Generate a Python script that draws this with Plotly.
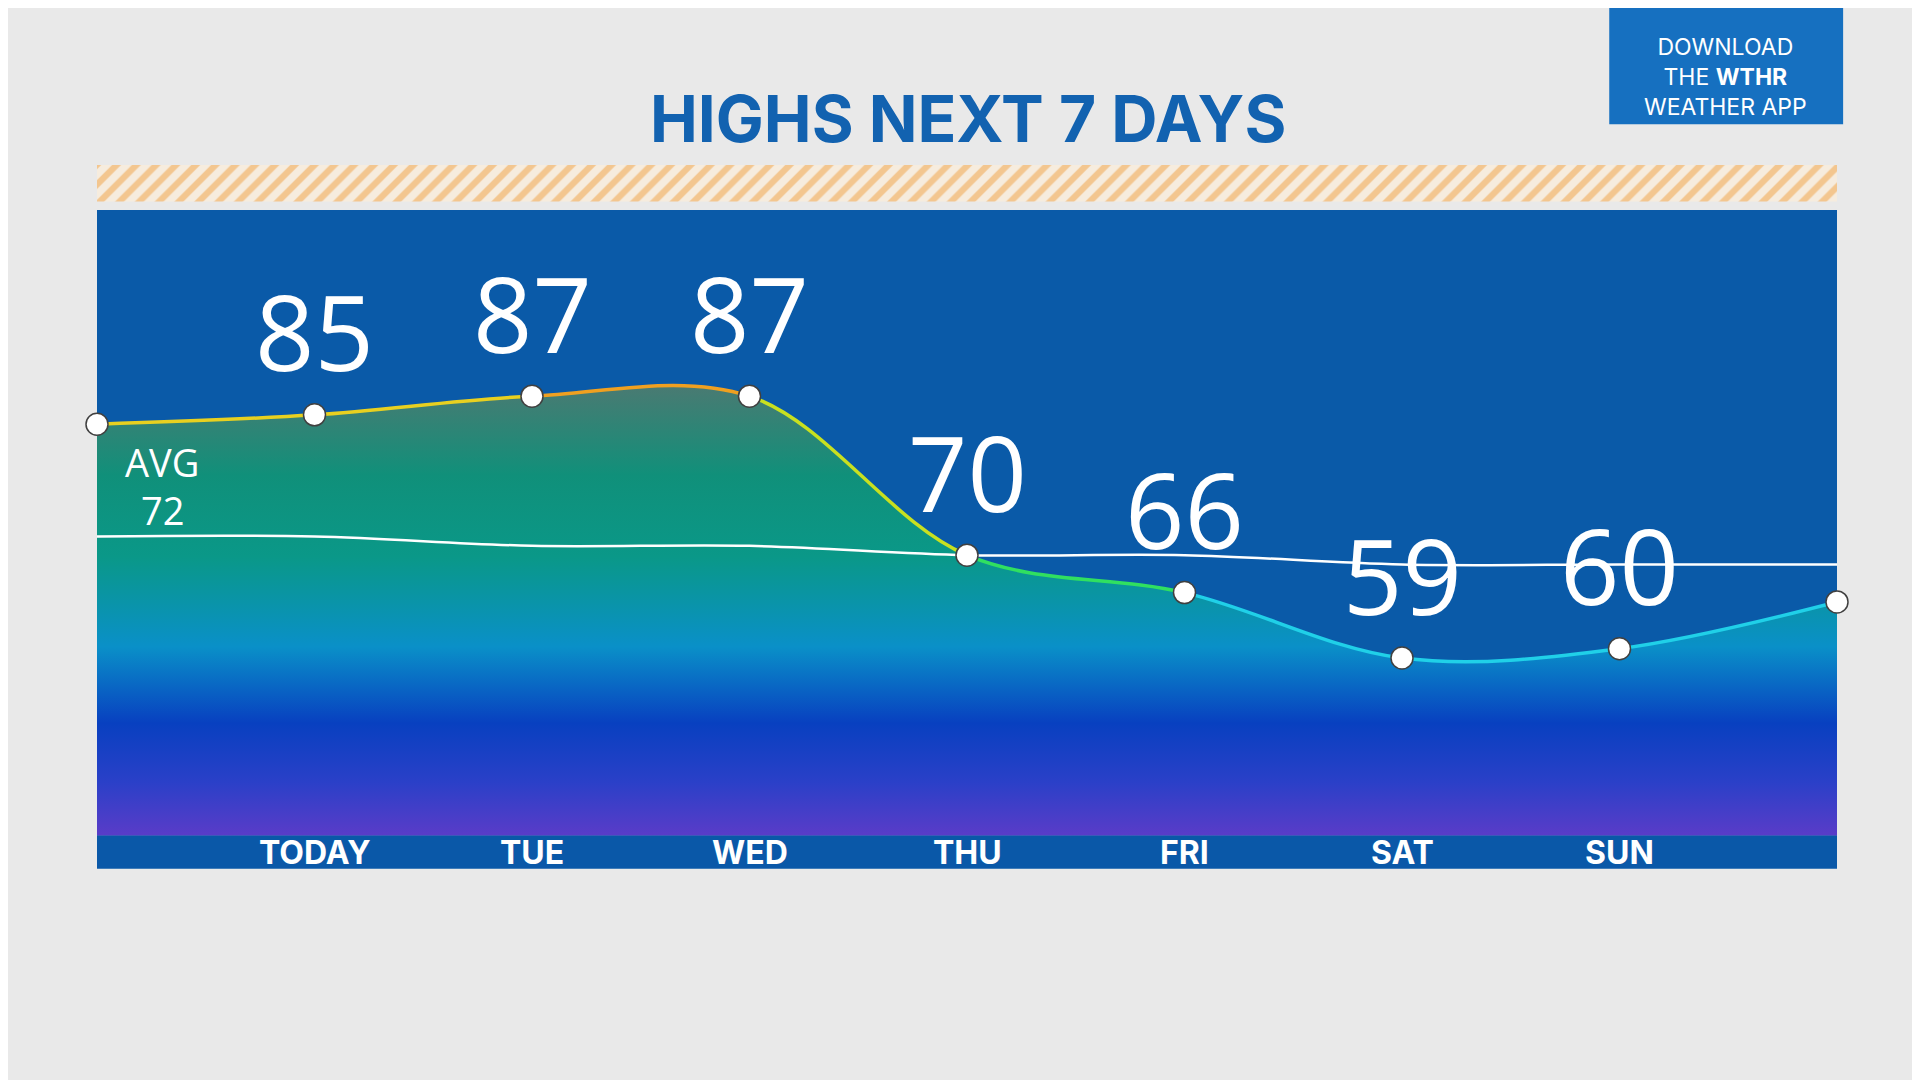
import plotly.graph_objects as go

# data
x_pos = [0, 1, 2, 3, 4, 5, 6, 7, 8]
highs = [84, 85, 87, 87, 70, 66, 59, 60, 65]
avg = [72, 72, 71, 71, 70, 70, 69, 69, 69]
day_labels = ["TODAY", "TUE", "WED", "THU", "FRI", "SAT", "SUN"]
day_x = [1, 2, 3, 4, 5, 6, 7]
shown_highs = [85, 87, 87, 70, 66, 59, 60]

W, H = 1920, 1080
s = W / 1568
RH = 882  # reference height


def py(yref):
    # reference pixel row -> paper y (paper spans the full figure height)
    return 1 - yref / RH


def px_(xref):
    # reference pixel column -> paper x (plot spans 73..1494)
    return (xref - 73) / 1421


fig = go.Figure()

# baseline for the gradient fill
fig.add_trace(go.Scatter(x=x_pos, y=[40] * len(x_pos), mode="lines",
                         line=dict(width=0), hoverinfo="skip", showlegend=False))
fig.add_trace(go.Scatter(
    x=x_pos, y=highs, mode="lines", line=dict(width=0, shape="spline", smoothing=1.0),
    fill="tonexty",
    fillgradient=dict(type="vertical", colorscale=[
        [0.0, "#5a3cc8"], [0.12, "#2a40c8"], [0.25, "#0840c0"], [0.42, "#0a90c8"],
        [0.62, "#0a9888"], [0.8, "#10907a"], [1.0, "#4a7a72"]]),
    hoverinfo="skip", showlegend=False))

# average line
fig.add_trace(go.Scatter(x=x_pos, y=avg, mode="lines",
                         line=dict(color="white", width=2.5, shape="spline"),
                         showlegend=False))

# highs line, coloured by stretch: same spline drawn on clipped side-by-side x-axes
segments = [(0, 2, "#e8d020"), (2, 3, "#f0a020"), (3, 4, "#c8e020"), (4, 5, "#30e060"), (5, 8, "#20d0e8")]
axis_cfg = {}
for i, (a, b, col) in enumerate(segments):
    n = i + 3
    axis_cfg["xaxis%d" % n] = dict(range=[a, b], domain=[a / 8, b / 8], visible=False,
                                   anchor="y", fixedrange=True)
    fig.add_trace(go.Scatter(x=x_pos, y=highs, mode="lines", xaxis="x%d" % n,
                             line=dict(color=col, width=3.5, shape="spline", smoothing=1.0),
                             showlegend=False))
fig.add_trace(go.Scatter(x=x_pos, y=highs, mode="markers", xaxis="x7",
                         marker=dict(color="white", size=22, line=dict(color="#404040", width=1.5)),
                         cliponaxis=False, showlegend=False))
axis_cfg["xaxis8"] = dict(range=[0, 8], domain=[0, 1], visible=False, anchor="y", fixedrange=True)
fig.data[-1].xaxis = "x8"

# hatched stripe
fig.add_trace(go.Bar(x=[0.5], y=[1], width=1, xaxis="x2", yaxis="y2",
                     marker=dict(color="#f4e8d8", line=dict(width=0),
                                 pattern=dict(shape="/", fgcolor="#f0a040", bgcolor="#f6ecde",
                                              size=14, solidity=0.45)),
                     showlegend=False, hoverinfo="skip"))

for d, v in zip(day_x, shown_highs):
    fig.add_annotation(x=d, y=v, text=str(v), showarrow=False, yshift=84,
                       font=dict(family="Open Sans", size=104, color="white"))

fig.add_annotation(x=0.3, y=80.0, text="AVG", showarrow=False,
                   font=dict(family="Open Sans", size=38, color="white"))
fig.add_annotation(x=0.3, y=74.8, text="72", showarrow=False,
                   font=dict(family="Open Sans", size=38, color="white"))

# blue panel behind everything
fig.add_shape(type="rect", xref="paper", yref="paper", x0=0, x1=1,
              y0=py(676), y1=py(165), fillcolor="#0a5aa8", line=dict(width=0), layer="below")

# day label strip
fig.add_shape(type="rect", xref="paper", yref="paper", x0=0, x1=1,
              y0=py(703), y1=py(676), fillcolor="#0a58a8", line=dict(width=0))
for d, lab in zip(day_x, day_labels):
    fig.add_annotation(x=d, y=py(690), yref="paper", yanchor="middle", text="<b>" + lab + "</b>",
                       showarrow=False, font=dict(family="Inter", size=32, color="white"))

# title
fig.add_annotation(xref="paper", yref="paper", x=px_(784), y=py(90),
                   xanchor="center", yanchor="middle",
                   text="<b>HIGHS NEXT 7 DAYS</b>",
                   showarrow=False, font=dict(family="Inter", size=64, color="#1262b0"))

# logo box
fig.add_shape(type="rect", xref="paper", yref="paper",
              x0=px_(1308), x1=px_(1499), y0=py(95), y1=1,
              fillcolor="#1670c0", line=dict(width=0))
fig.add_annotation(xref="paper", yref="paper", x=px_(1403), y=py(56),
                   xanchor="center", yanchor="middle",
                   text="DOWNLOAD<br>THE <b>WTHR</b><br>WEATHER APP", showarrow=False,
                   font=dict(family="Inter", size=23, color="white"), align="center")

fig.update_layout(
    width=W, height=H,
    paper_bgcolor="#e9e9e9", plot_bgcolor="rgba(0,0,0,0)",
    margin=dict(l=73 * s, r=W - 1494 * s, t=0, b=0, pad=0),
    xaxis=dict(range=[0, 8], visible=False, fixedrange=True),
    yaxis=dict(range=[40, 106.9], visible=False, fixedrange=True,
               domain=[py(676), py(165)]),
    xaxis2=dict(range=[0, 1], visible=False, domain=[0, 1], anchor="y2"),
    yaxis2=dict(range=[0, 1], visible=False, anchor="x2",
                domain=[py(158), py(128)]),
    bargap=0,
    **axis_cfg,
)

fig.write_html("out.html")
